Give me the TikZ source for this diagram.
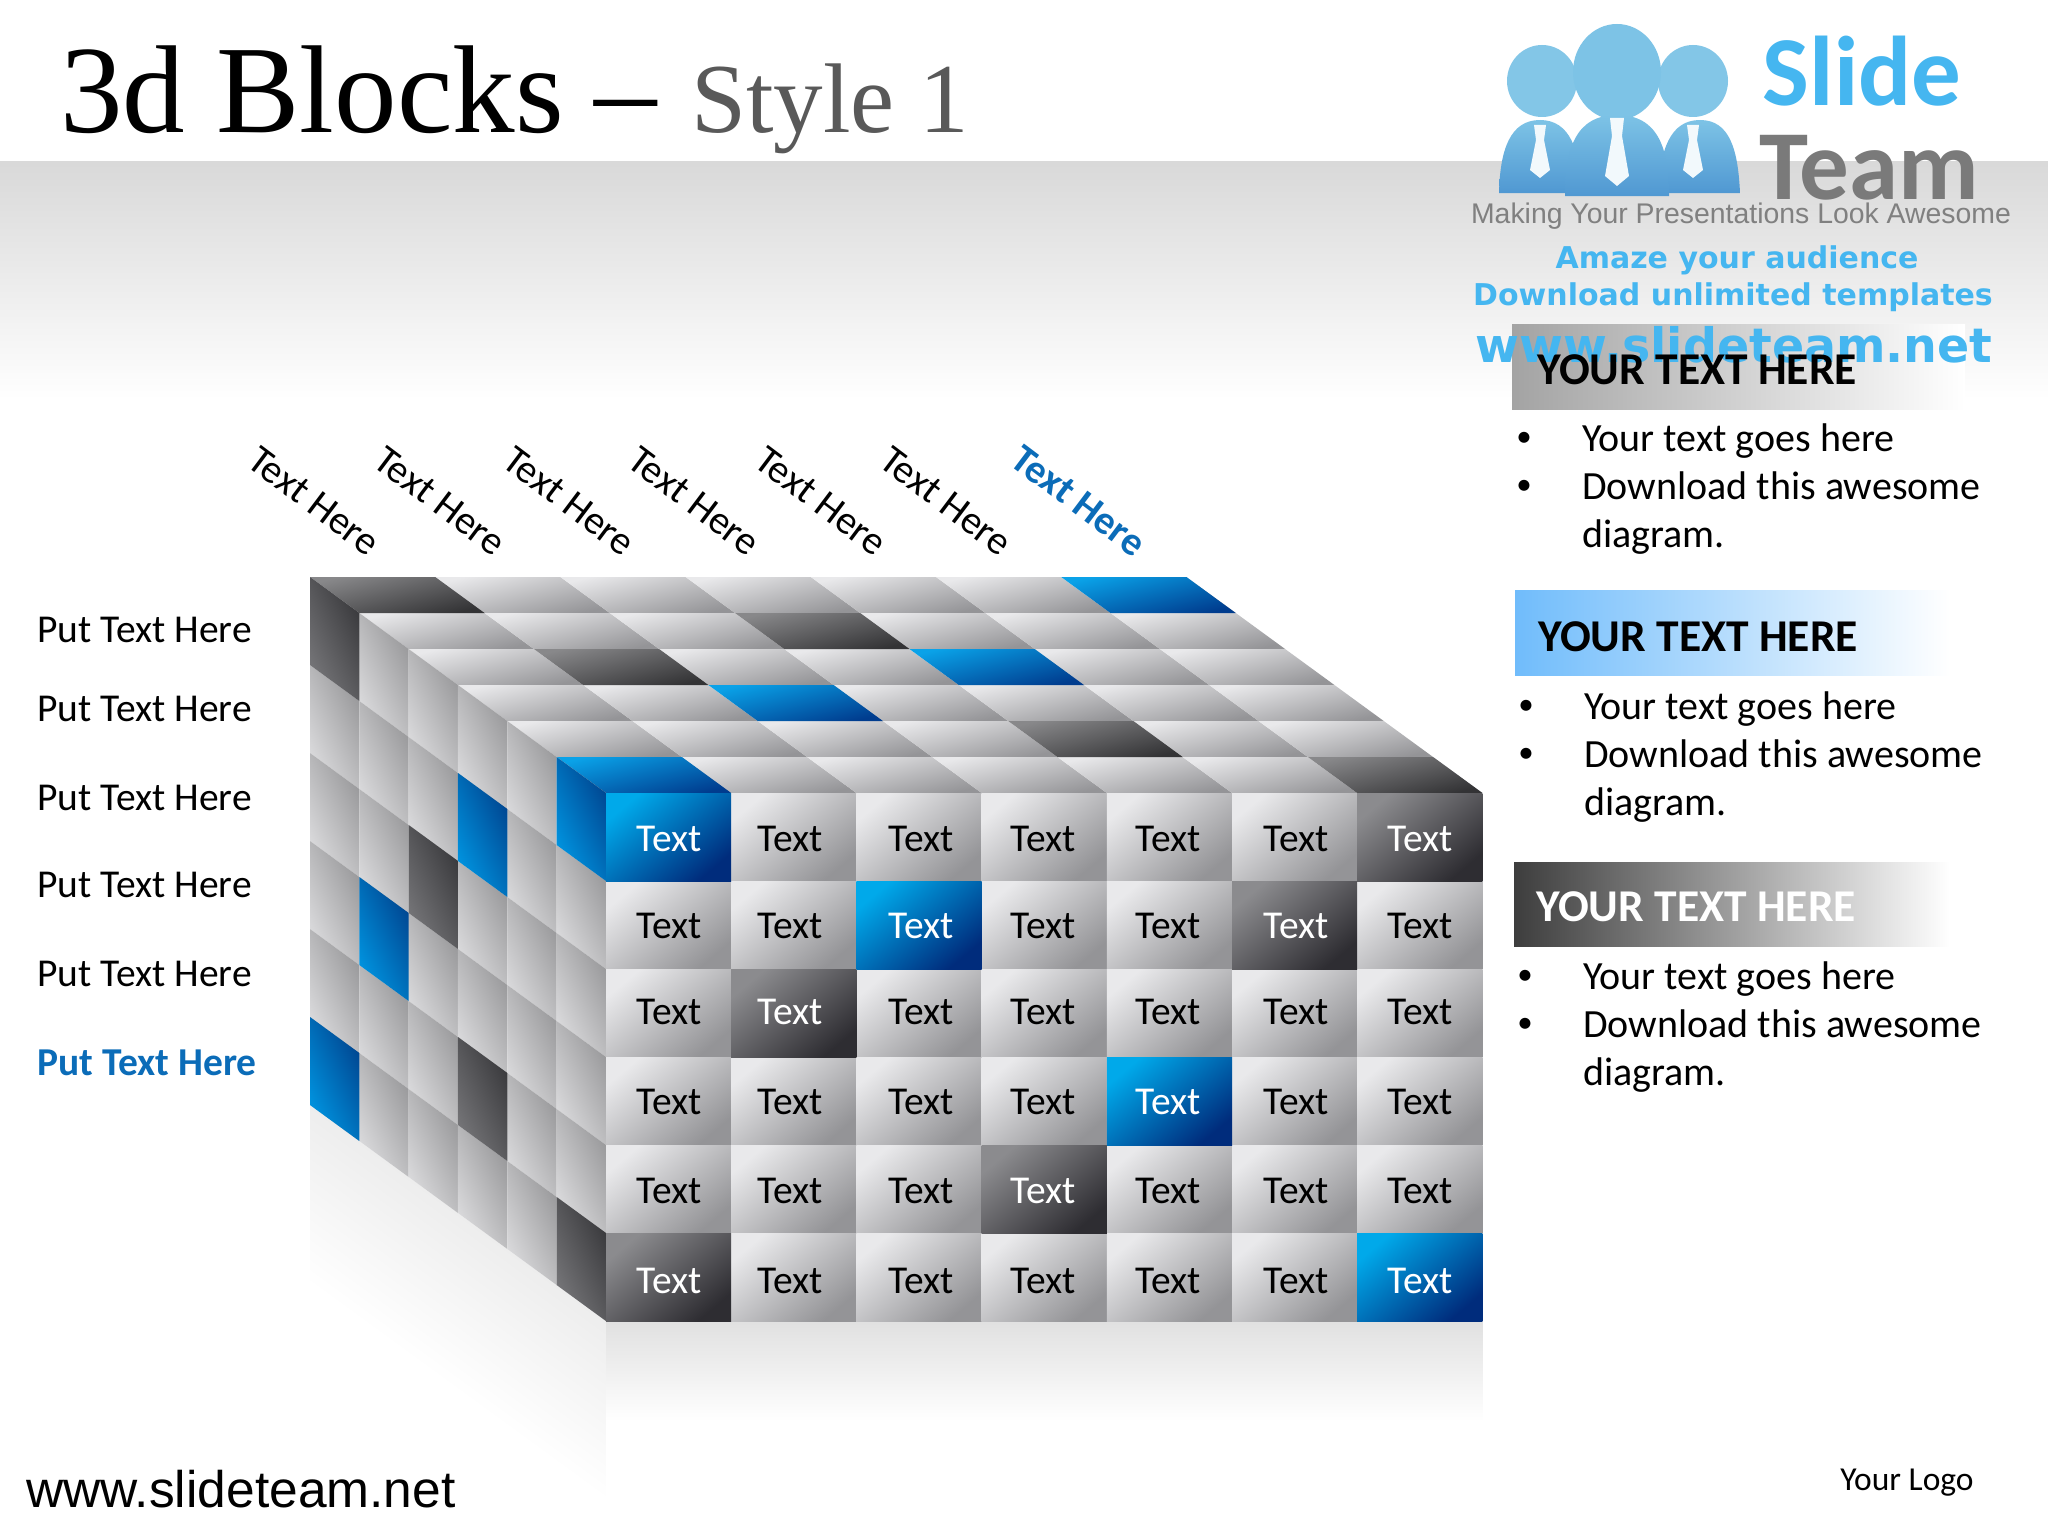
\documentclass[tikz,border=0pt]{standalone}
\usepackage{fontspec}
\setmainfont{Carlito}
\newfontfamily\serifft{Liberation Serif}
\newfontfamily\arialft{Liberation Sans}
\newfontfamily\dejaft{DejaVu Sans}
\newcommand{\fs}[1]{\fontsize{#1}{#1}\selectfont}
\definecolor{gL}{HTML}{E9E9EB}\definecolor{gD}{HTML}{949497}
\definecolor{bL}{HTML}{00A9EA}\definecolor{bD}{HTML}{002C7C}
\definecolor{dL}{HTML}{8B8B8E}\definecolor{dD}{HTML}{2E2D32}
\definecolor{sL}{HTML}{DCDCDE}\definecolor{sD}{HTML}{979799}
\definecolor{sbL}{HTML}{0096E2}\definecolor{sbD}{HTML}{00448F}
\definecolor{sdL}{HTML}{77777A}\definecolor{sdD}{HTML}{38383B}
\definecolor{tbL}{HTML}{0AA2E8}\definecolor{tbD}{HTML}{003C8E}
\definecolor{tdL}{HTML}{88888A}\definecolor{tdD}{HTML}{333335}
\definecolor{lblue}{HTML}{0B6CB8}
\definecolor{logoA}{HTML}{7DC3E6}\definecolor{logoB}{HTML}{5098D2}
\definecolor{logoC}{HTML}{45B6F0}
\definecolor{hbA}{HTML}{70BCFB}\definecolor{hbB}{HTML}{D4EAFB}
\tikzset{
 fgray/.style={top color=gL,bottom color=gD,shading angle=40},
 fblue/.style={top color=bL,bottom color=bD,shading angle=40},
 fdark/.style={top color=dL,bottom color=dD,shading angle=40},
 sgray/.style={top color=sD,bottom color=sL,shading angle=-65},
 sblue/.style={top color=sbD,bottom color=sbL,shading angle=-65},
 sdark/.style={top color=sdD,bottom color=sdL,shading angle=-65},
 tgray/.style={top color=gL,bottom color=gD,shading angle=14},
 tblue/.style={top color=tbL,bottom color=tbD,shading angle=14},
 tdark/.style={top color=tdL,bottom color=tdD,shading angle=14},
 celltxt/.style={font=\fs{39.5},text=black,inner sep=0pt},
 celltxtw/.style={font=\fs{39.5},text=white,inner sep=0pt},
 rowlab/.style={font=\fs{39.5},text=black,anchor=west,inner sep=0pt},
 collab/.style={font=\fs{40},text=black,rotate=-37,inner sep=0pt},
 headtxt/.style={font=\bfseries\fs{45.5},anchor=west,inner sep=0pt},
 bodytxt/.style={font=\fs{40},anchor=base west,inner sep=0pt},
 bullet/.style={font=\fs{31},inner sep=0pt},
 logoblue/.style={top color=logoA,bottom color=logoB},
 logotxt/.style={font=\dejaft\bfseries\fs{30},text=logoC,inner sep=0pt},
}
\newcommand{\frontcell}[3]{\shade[#3] ({606+#1*125.2},{793+#2*88}) rectangle ++(125.2,88);}
\newcommand{\sidecell}[3]{\shade[#3] ({310+#1*49.33},{577+#1*36+#2*88}) -- ++(49.33,36) -- ++(0,88) -- ++(-49.33,-36) -- cycle;}
\newcommand{\topcell}[3]{\shade[#3] ({310+#2*49.33+#1*125.2},{577+#2*36}) -- ++(125.2,0) -- ++(49.33,36) -- ++(-125.2,0) -- cycle;}
\begin{document}
\begin{tikzpicture}[x=1pt,y=-1pt]
\useasboundingbox (0,0) rectangle (2048,1536);
\fill[white] (0,0) rectangle (2048,1536);
% backdrop band
\shade[top color=black!15,middle color=black!3.5,bottom color=white] (0,162) rectangle (2048,400);
% reflections: the side one is sheared so that its fade follows the lower edge
\begin{scope}[transform canvas={cm={1,-0.7298,0,1,(0,0)}}]
  \shade[top color=black!7,middle color=black!2,bottom color=white] (310,878.8) rectangle (606,1058.8);
\end{scope}
\foreach \c in {0,...,6}{
  \shade[top color=black!12,bottom color=white] ({606+\c*125.2},1321) rectangle ++(125.2,100);
}
% top face
\foreach \d in {0,...,5}{\foreach \c in {0,...,6}{\topcell{\c}{\d}{tgray}}}
\foreach \c/\d in {6/0,4/2,2/3,0/5}{\topcell{\c}{\d}{tblue}}
\foreach \c/\d in {0/0,3/1,1/2,4/4,6/5}{\topcell{\c}{\d}{tdark}}
% side face
\foreach \c in {0,...,5}{\foreach \r in {0,...,5}{\sidecell{\c}{\r}{sgray}}}
\foreach \c/\r in {0/5,1/3,3/1,5/0}{\sidecell{\c}{\r}{sblue}}
\foreach \c/\r in {0/0,2/2,3/4,5/5}{\sidecell{\c}{\r}{sdark}}
% front face
\foreach \c in {0,...,6}{\foreach \r in {0,...,5}{\frontcell{\c}{\r}{fgray}}}
\foreach \c/\r in {0/0,2/1,4/3,6/5}{\frontcell{\c}{\r}{fblue}}
\foreach \c/\r in {6/0,5/1,1/2,3/4,0/5}{\frontcell{\c}{\r}{fdark}}
\foreach \c in {0,...,6}{\foreach \r in {0,...,5}{
  \foreach \a/\b in {0/0,2/1,4/3,6/5,6/0,5/1,1/2,3/4,0/5}{
    \ifnum\c=\a\ifnum\r=\b\global\def\whitecell{1}\fi\fi}
  \pgfmathsetmacro{\tx}{{669,790,921,1043,1168,1296,1420}[\c]}
  \pgfmathsetmacro{\ty}{{838.5,926,1012,1102,1191,1281}[\r]}
  \ifdefined\whitecell
    \node[celltxtw] (t\c\r) at (\tx,\ty) {Text};
    \global\let\whitecell\undefined
  \else
    \node[celltxt] (t\c\r) at (\tx,\ty) {Text};
  \fi
}}
% row labels
\node[rowlab] (r1) at (37,630) {Put Text Here};
\node[rowlab] (r2) at (37,709) {Put Text Here};
\node[rowlab] (r3) at (37,798) {Put Text Here};
\node[rowlab] (r4) at (37,885) {Put Text Here};
\node[rowlab] (r5) at (37,974) {Put Text Here};
\node[rowlab,font=\bfseries\fs{39.5},text=lblue] (r6) at (37,1063) {Put Text Here};
% column labels
\node[collab] (c1) at (314,501) {Text Here};
\node[collab] (c2) at (440,501) {Text Here};
\node[collab] (c3) at (569,501) {Text Here};
\node[collab] (c4) at (694,501) {Text Here};
\node[collab] (c5) at (821,501) {Text Here};
\node[collab] (c6) at (946,501) {Text Here};
\node[collab,font=\bfseries\fs{40},text=lblue] (c7) at (1079,501) {Text Here};
% title
\node[anchor=base west,inner sep=0pt,font=\serifft\fs{125},text=black] (title1) at (60,133) {3d Blocks –};
\node[anchor=base west,inner sep=0pt,font=\serifft\fs{99},text=black!65] (title2) at (691,133) {Style 1};
% header boxes
\shade[left color=black!36,middle color=black!12,right color=white] (1512,324) rectangle (1965,409);
\shade[left color=hbA,middle color=hbB,right color=white] (1515,590) rectangle (1950,675);
\shade[left color=black!76,middle color=black!24,right color=white] (1514,862) rectangle (1950,946);
% logo
\fill[logoA,opacity=.95] (1542,81) ellipse (35 and 36);
\fill[logoA,opacity=.95] (1693,81) ellipse (35 and 36);
\fill[logoA] (1617,72) ellipse (44 and 48);
\shade[logoblue] (1499,193) .. controls (1500,150) and (1510,120) .. (1540,120) .. controls (1570,120) and (1580,150) .. (1582,193) -- cycle;
\shade[logoblue] (1658,193) .. controls (1660,150) and (1670,120) .. (1700,120) .. controls (1730,120) and (1738,150) .. (1740,193) -- cycle;
\shade[logoblue] (1565,196) .. controls (1565,150) and (1575,115) .. (1617,115) .. controls (1659,115) and (1669,150) .. (1669,196) -- cycle;
\fill[white!90!logoA] (1534,125) -- (1546,125) -- (1544,140) -- (1550,170) -- (1540,178) -- (1530,170) -- (1536,140) -- cycle;
\fill[white!90!logoA] (1687,125) -- (1699,125) -- (1697,140) -- (1703,170) -- (1693,178) -- (1683,170) -- (1689,140) -- cycle;
\fill[white!90!logoA] (1610,118) -- (1624,118) -- (1622,136) -- (1629,176) -- (1617,186) -- (1605,176) -- (1612,136) -- cycle;
\node[inner sep=0pt,font=\bfseries\fs{99},text=logoC] (lg1) at (1862,71) {Slide};
\node[inner sep=0pt,font=\bfseries\fs{99},text=black!52] (lg2) at (1869,168) {Team};
\node[inner sep=0pt,font=\arialft\fs{28.4},text=black!50] (lg3) at (1741,216) {Making Your Presentations Look Awesome};
\node[logotxt] (lg4) at (1737,260) {Amaze your audience};
\node[logotxt] (lg5) at (1733,297) {Download unlimited templates};
\node[logotxt,font=\dejaft\bfseries\fs{47.5}] (lg6) at (1734,345) {www.slideteam.net};
% header text
\node[headtxt,text=black] (h1) at (1537,370) {YOUR TEXT HERE};
\node[headtxt,text=black] (h2) at (1538,637) {YOUR TEXT HERE};
\node[headtxt,text=white] (h3) at (1536,907) {YOUR TEXT HERE};
% bodies
\node[bullet] (b11) at (1524,439) {•};\node[bullet] (b12) at (1524,487) {•};
\node[bodytxt] (d1a) at (1582,451.5) {Your text goes here};
\node[bodytxt] (d1b) at (1582,499.5) {Download this awesome};
\node[bodytxt] (d1c) at (1582,547.5) {diagram.};
\node[bullet] (b21) at (1526,707) {•};\node[bullet] (b22) at (1526,755) {•};
\node[bodytxt] (d2a) at (1584,719.5) {Your text goes here};
\node[bodytxt] (d2b) at (1584,767.5) {Download this awesome};
\node[bodytxt] (d2c) at (1584,815.5) {diagram.};
\node[bullet] (b31) at (1525,977) {•};\node[bullet] (b32) at (1525,1025) {•};
\node[bodytxt] (d3a) at (1583,989.5) {Your text goes here};
\node[bodytxt] (d3b) at (1583,1037.5) {Download this awesome};
\node[bodytxt] (d3c) at (1583,1085.5) {diagram.};
% footer
\node[anchor=west,inner sep=0pt,font=\arialft\fs{51.5},text=black] (f1) at (26,1489) {www.slideteam.net};
\node[inner sep=0pt,font=\fs{33.5},text=black] (f2) at (1907,1483) {Your Logo};
\end{tikzpicture}
\end{document}
